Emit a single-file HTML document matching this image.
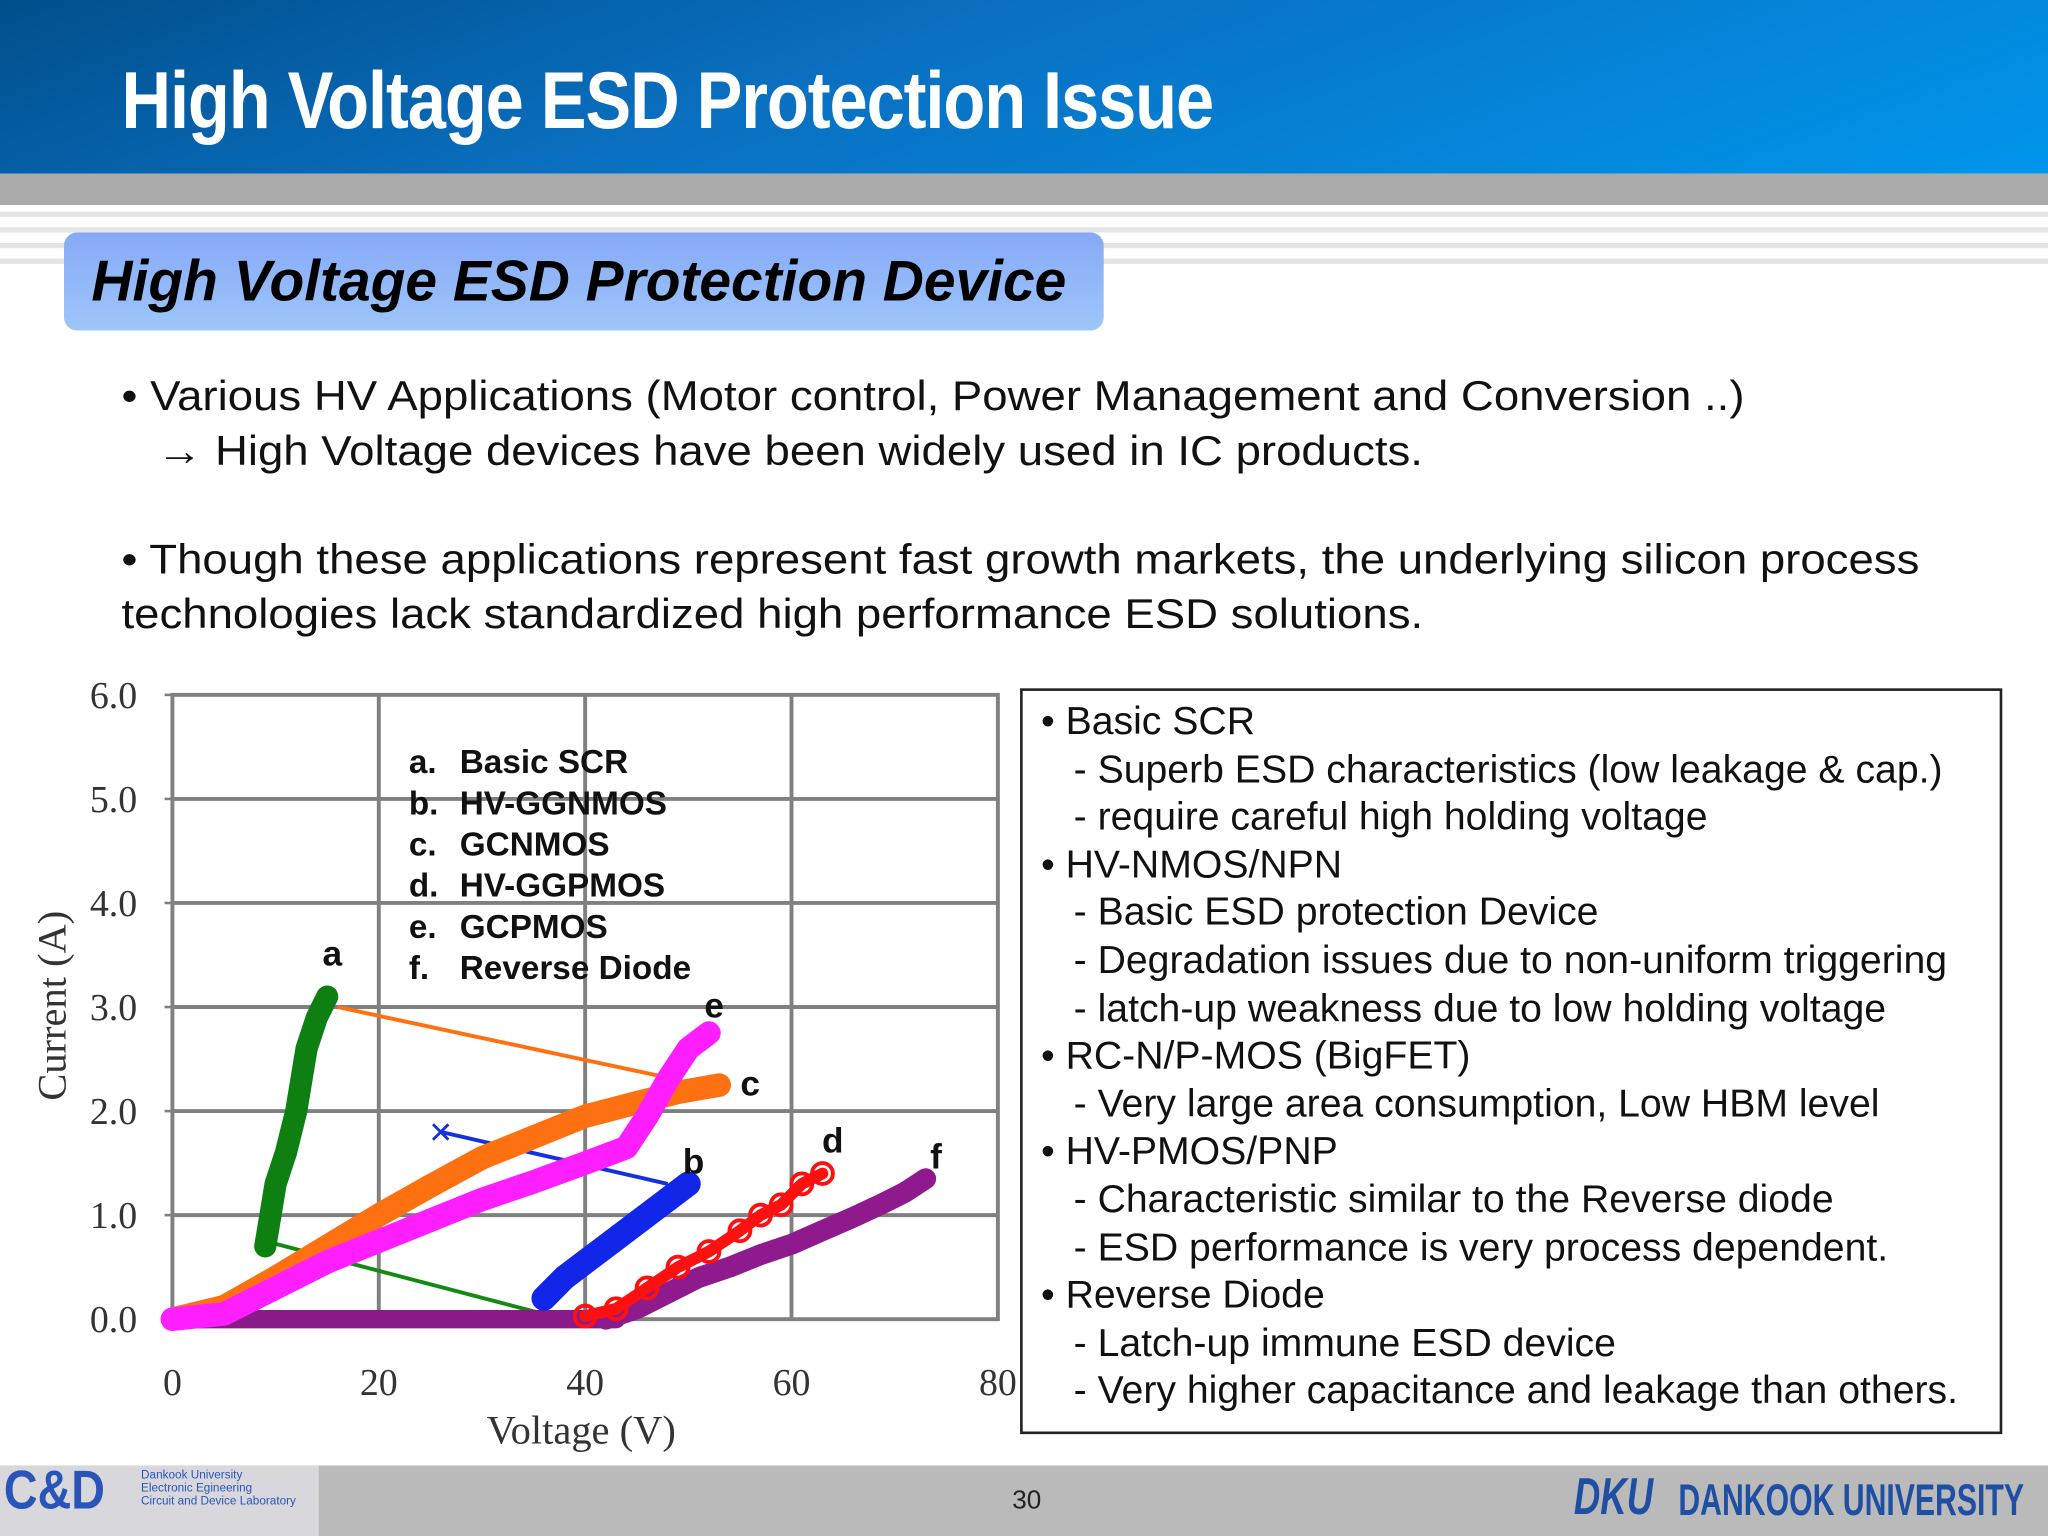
<!DOCTYPE html>
<html><head><meta charset="utf-8"><style>
html,body{margin:0;padding:0;width:2048px;height:1536px;overflow:hidden;background:#fff}
#stage{position:absolute;left:0;top:0;width:1568px;height:1176px;transform:scale(1.306122);transform-origin:0 0;font-family:"Liberation Sans",sans-serif}
.abs{position:absolute;white-space:nowrap}
#header{left:0;top:0;width:1568px;height:133px;background:linear-gradient(160deg,#004f8c 0%,#0a6fc0 40%,#0096ec 100%)}
#title{left:93px;top:42px;font-size:62px;font-weight:bold;color:#fff;transform:scaleX(0.848);transform-origin:0 0;letter-spacing:-1px}
#band{left:0;top:133px;width:1568px;height:24px;background:#aaa}
.stripe{position:absolute;left:0;width:1568px;height:4px;background:#e4e4e6}
#subbox{left:49px;top:178px;width:796px;height:75px;border-radius:10px;background:linear-gradient(180deg,#86a9f6,#9ec6fb)}
#subtitle{left:70px;top:191px;font-size:44px;font-weight:bold;font-style:italic;color:#000;transform:scaleX(0.99);transform-origin:0 0}
.body{font-size:32px;color:#111;transform:scaleX(1.09);transform-origin:0 0}
#rbox{left:781px;top:527px;width:748px;height:567px;border:2px solid #222;background:#fff}
.rl{position:absolute;font-size:30px;color:#111;white-space:nowrap}
#footer{left:0;top:1122px;width:1568px;height:54px;background:#bbbaba}
</style></head><body>
<div id="stage">
<div id="header" class="abs"></div>
<div id="title" class="abs">High Voltage ESD Protection Issue</div>
<div id="band" class="abs"></div>
<div class="stripe" style="top:162px"></div><div class="stripe" style="top:174px"></div><div class="stripe" style="top:186px"></div><div class="stripe" style="top:198px"></div>
<div id="subbox" class="abs"></div>
<div id="subtitle" class="abs">High Voltage ESD Protection Device</div>
<div class="abs body" style="left:93px;top:285px">• Various HV Applications (Motor control, Power Management and Conversion ..)</div>
<div class="abs body" style="left:120px;top:327px">→ High Voltage devices have been widely used in IC products.</div>
<div class="abs body" style="left:93px;top:410px">• Though these applications represent fast growth markets, the underlying silicon process</div>
<div class="abs body" style="left:93px;top:452px">technologies lack standardized high performance ESD solutions.</div>

<svg class="abs" style="left:0;top:0" width="1568" height="1176">
<g id="grid"></g><g id="marks"></g><g id="labels"></g>
</svg>

<div id="rbox" class="abs"></div>
<div id="rtext"></div>

<div id="footer" class="abs"></div>
<div class="abs" style="left:0;top:1122px;width:244px;height:54px;background:#d8d8dc"></div>
<div class="abs" style="left:3px;top:1117px;font-size:42px;font-weight:bold;color:#2a55b8;transform:scaleX(0.85);transform-origin:0 0">C&amp;D</div>
<div class="abs" style="left:108px;top:1124px;font-size:9px;line-height:10px;color:#2a55b8">Dankook University<br>Electronic Egineering<br>Circuit and Device Laboratory</div>
<div class="abs" style="left:775px;top:1138px;font-size:20px;color:#222">30</div>
<div class="abs" style="left:1205px;top:1124px;font-size:40px;font-weight:bold;font-style:italic;color:#1f4fa3;transform:scaleX(0.7);transform-origin:0 0">DKU</div>
<div class="abs" style="left:1285px;top:1130px;font-size:34px;font-weight:bold;color:#1f4fa3;transform:scaleX(0.68);transform-origin:0 0">DANKOOK UNIVERSITY</div>
</div>
<script>
const NS='http://www.w3.org/2000/svg';
const xTicks=[0,20,40,60,80];
const yTicks=[0,1,2,3,4,5,6];
const yTickLabels=['0.0','1.0','2.0','3.0','4.0','5.0','6.0'];
// series (V, A)
const seriesA=[[9,0.7],[9.5,1.0],[10,1.3],[11,1.6],[12,2.0],[12.5,2.3],[13,2.6],[14,2.9],[15,3.1]];
const snapA=[[36,0.05],[9,0.75]];
const seriesB=[[36,0.2],[38,0.4],[40,0.55],[42,0.7],[44,0.85],[46,1.0],[48,1.15],[50,1.3]];
const snapB=[[26,1.8],[48,1.3]];
const seriesC=[[0,0],[5,0.12],[10,0.4],[15,0.7],[20,1.0],[25,1.28],[30,1.55],[35,1.75],[40,1.95],[45,2.08],[49,2.18],[53,2.25]];
const snapC=[[16,3.0],[49,2.3]];
const seriesD=[[40,0.03],[43,0.1],[46,0.3],[49,0.5],[52,0.65],[55,0.85],[57,1.0],[59,1.1],[61,1.3],[63,1.4]];
const seriesE=[[0,0],[5,0.05],[10,0.3],[15,0.55],[20,0.75],[25,0.95],[30,1.15],[35,1.32],[40,1.5],[44,1.65],[46,1.95],[48,2.3],[50,2.6],[52,2.75]];
const seriesF=[[42,0],[45,0.1],[48,0.25],[51,0.4],[54,0.5],[57,0.62],[60,0.72],[63,0.85],[66,0.98],[69,1.12],[71,1.22],[73,1.35]];
const baseline=[[0,0],[43,0]];
const legendItems=['a.','b.','c.','d.','e.','f.'];
const legendNames=['Basic SCR','HV-GGNMOS','GCNMOS','HV-GGPMOS','GCPMOS','Reverse Diode'];
const notes=['• Basic SCR','  - Superb ESD characteristics (low leakage & cap.)','  - require careful high holding voltage','• HV-NMOS/NPN','  - Basic ESD protection Device','  - Degradation issues due to non-uniform triggering','  - latch-up weakness due to low holding voltage','• RC-N/P-MOS (BigFET)','  - Very large area consumption, Low HBM level','• HV-PMOS/PNP','  - Characteristic similar to the Reverse diode','  - ESD performance is very process dependent.','• Reverse Diode','  - Latch-up immune ESD device','  - Very higher capacitance and leakage than others.'];

const X0=132,X1=764,Y0=1010,Y1=532;
const sx=v=>X0+(v-0)/80*(X1-X0);
const sy=a=>Y0-(a-0)/6*(Y0-Y1);
function el(tag,attrs,parent,txt){const e=document.createElementNS(NS,tag);for(const k in attrs)e.setAttribute(k,attrs[k]);if(txt!==undefined)e.textContent=txt;parent.appendChild(e);return e;}
const grid=document.getElementById('grid'),marks=document.getElementById('marks'),labels=document.getElementById('labels');
el('rect',{x:X0,y:Y1,width:X1-X0,height:Y0-Y1,fill:'#fff',stroke:'#808080','stroke-width':3},grid);
xTicks.forEach((t,i)=>{
  if(i>0&&i<xTicks.length-1){const l=el('line',{x1:sx(t),x2:sx(t),y1:Y1,y2:Y0,stroke:'#808080','stroke-width':3},grid);}
  const tx=el('text',{x:sx(t),y:1068,'text-anchor':'middle','font-family':'Liberation Serif, serif','font-size':29,fill:'#333'},labels,String(t));
  
});
yTicks.forEach((t,i)=>{
  if(i>0&&i<yTicks.length-1){const l=el('line',{x1:X0,x2:X1,y1:sy(t),y2:sy(t),stroke:'#808080','stroke-width':3},grid);}
  el('line',{x1:X0-6,x2:X0,y1:sy(t),y2:sy(t),stroke:'#808080','stroke-width':2},grid);
  const tx=el('text',{x:105,y:sy(t)+10,'text-anchor':'end','font-family':'Liberation Serif, serif','font-size':29,fill:'#333'},labels,yTickLabels[i]);
  
});
let t=el('text',{x:445,y:1105,'text-anchor':'middle','font-family':'Liberation Serif, serif','font-size':31,fill:'#333'},labels,'Voltage (V)');

t=el('text',{x:0,y:0,transform:'translate(50,770) rotate(-90)','text-anchor':'middle','font-family':'Liberation Serif, serif','font-size':31,fill:'#333'},labels,'Current (A)');


const pts=a=>a.map(p=>sx(p[0])+','+sy(p[1])).join(' ');
function band(data,color,w,name){const p=el('polyline',{points:pts(data),fill:'none',stroke:color,'stroke-width':w,'stroke-linejoin':'round','stroke-linecap':'round'},marks);}
function thin(data,color,name){const p=el('polyline',{points:pts(data),fill:'none',stroke:color,'stroke-width':3},marks);}
thin(snapA,'#138a13','snapback-a');
thin(snapB,'#1530e0','snapback-b');
thin(snapC,'#ff7011','snapback-c');
band(baseline,'#8a1a8a',14,'baseline-leakage');
band(seriesC,'#ff7011',18,'series-c-gcnmos');
band(seriesE,'#ff1eff',18,'series-e-gcpmos');
band(seriesA,'#0e8012',17,'series-a-basic-scr');
band(seriesB,'#1226ea',19,'series-b-hv-ggnmos');
band(seriesF,'#8e1a8e',16,'series-f-reverse-diode');
band(seriesD,'#ff1010',9,'series-d-hv-ggpmos');
seriesD.forEach(p=>{const c=el('circle',{cx:sx(p[0]),cy:sy(p[1]),r:8,fill:'none',stroke:'#ff1010','stroke-width':3},marks);});
const xm=el('text',{x:sx(snapB[0][0]),y:sy(snapB[0][1])+10,'text-anchor':'middle','font-size':30,fill:'#1530e0','font-family':'Liberation Sans, sans-serif'},marks,'×');

const curveLabels=[['a',15.5,3.4],['b',50.5,1.4],['c',56,2.15],['d',64,1.6],['e',52.5,2.9],['f',74,1.45]];
curveLabels.forEach(c=>{const l=el('text',{x:sx(c[1]),y:sy(c[2]),'text-anchor':'middle','font-size':27,'font-weight':'bold',fill:'#111','font-family':'Liberation Sans, sans-serif'},labels,c[0]);});
legendItems.forEach((k,i)=>{
  const y=592+i*31.5;
  const a=el('text',{x:313,y:y,'font-size':25.5,'font-weight':'bold',fill:'#111','font-family':'Liberation Sans, sans-serif'},labels,k);
  
  const b=el('text',{x:352,y:y,'font-size':25.5,'font-weight':'bold',fill:'#111','font-family':'Liberation Sans, sans-serif'},labels,legendNames[i]);
  
});
const rt=document.getElementById('rtext');
notes.forEach((n,i)=>{
  const d=document.createElement('div');d.className='rl';
  
  
  const sub=n.startsWith('  ');
  d.style.left=(sub?822:797)+'px';d.style.top=(536+i*36.6)+'px';
  d.textContent=n.trim();rt.appendChild(d);
});
</script>
</body></html>
